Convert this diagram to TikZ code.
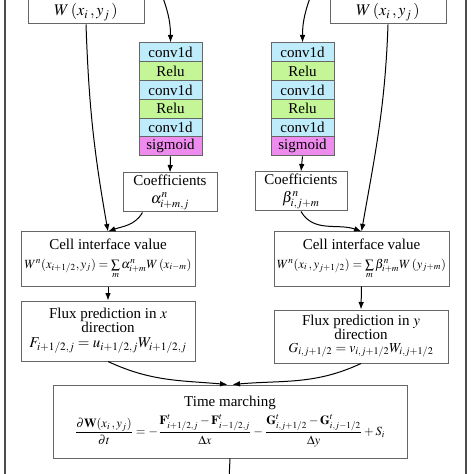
\documentclass[tikz,border=0pt]{standalone}
\usepackage{amsmath}
\usepackage{mathptmx}
\usepackage{fontspec}
\setmainfont{Liberation Serif}
\usetikzlibrary{arrows.meta, positioning}
\definecolor{convcyan}{RGB}{190,236,250}
\definecolor{relugreen}{RGB}{196,245,150}
\definecolor{sigpink}{RGB}{238,140,238}

\begin{document}
\begin{tikzpicture}[x=0.8pt, y=0.8pt,
    every node/.style={font=\fontsize{12}{13}\selectfont},
    blk/.style={draw=black!60, line width=0.8pt, fill=white, align=center,
                inner sep=0pt},
    sz/.style 2 args={minimum width=#1*0.8pt, minimum height=#2*0.8pt},
    layer/.style={draw=black!60, line width=0.8pt, minimum width=63*0.8pt,
                  minimum height=18.8*0.8pt, inner sep=0pt},
    arr/.style={-{Latex[length=6pt, width=4.5pt]}, line width=0.8pt},
  ]
    \useasboundingbox (0,-474) rectangle (474,0);
    \clip (0,-474) rectangle (474,0);

    % outer frame lines
    \draw[line width=0.9pt, black!70] (5,5) -- (5,-480);
    \draw[line width=0.9pt, black!70] (466,5) -- (466,-480);

    % input boxes
    \node[blk, sz={116}{60}] (wlbox) at (86,6) {};
    \node (wl) at (86,-12) {\fontsize{13}{14}\selectfont$W\,(x_i\,,y_j\,)$};
    \node[blk, sz={116}{60}] (wrbox) at (388,6) {};
    \node (wr) at (388,-12) {\fontsize{13}{14}\selectfont$W\,(x_i\,,y_j\,)$};

    % layer stacks
    \foreach \lab/\col [count=\k] in {conv1d/convcyan, Relu/relugreen,
        conv1d/convcyan, Relu/relugreen, conv1d/convcyan, sigmoid/sigpink} {
      \node[layer, fill=\col] (la\k) at (170.5,-33.6-\k*18.8) {\lab};
      \node[layer, fill=\col] (ra\k) at (302.5,-33.6-\k*18.8) {\lab};
    }

    % coefficients
    \node[blk, sz={94}{39}] (cl) at (170,-192.5)
      {Coefficients\\[1pt] {\large $\alpha^{n}_{i+m,j}$}};
    \node[blk, sz={92}{39}] (cr) at (301,-191.5)
      {Coefficients\\[1pt] {\large $\beta^{n}_{i,j+m}$}};

    % cell interface values
    \node[blk, sz={174}{54}] (il) at (108,-259)
      {Cell interface value\\[2pt]
       {\fontsize{10}{11}\selectfont $W^n(x_{i+1/2},y_j)=\sum\limits_{m}\alpha^n_{i+m}W\left(x_{i-m}\right)$}};
    \node[blk, sz={175}{54}] (ir) at (361.5,-259)
      {Cell interface value\\[2pt]
       {\fontsize{10}{11}\selectfont $W^n(x_i\,,y_{j+1/2})=\sum\limits_{m}\beta^n_{i+m}W\left(y_{j+m}\right)$}};

    % flux predictions
    \node[blk, sz={174}{60}] (fl) at (108,-331)
      {Flux prediction in $x$\\[-2pt] direction\\[-1pt]
       {\large $F_{i+1/2,j}=u_{i+1/2,j}W_{i+1/2,j}$}};
    \node[blk, sz={174}{53}] (fr) at (361,-336.5)
      {Flux prediction in $y$\\[-2pt] direction\\[-3pt]
       {\fontsize{11}{12}\selectfont $G_{i,j+1/2}=v_{i,j+1/2}W_{i,j+1/2}$}};

    % time marching
    \node[blk, sz={354}{73}] (tm) at (230,-421.5)
      {Time marching\\[3pt]
       {\normalsize $\dfrac{\partial\mathbf{W}(x_i\,,y_j)}{\partial t}
        =-\dfrac{\mathbf{F}^t_{i+1/2,j}-\mathbf{F}^t_{i-1/2,j}}{\Delta x}
        -\dfrac{\mathbf{G}^t_{i,j+1/2}-\mathbf{G}^t_{i,j-1/2}}{\Delta y}+S_i$}};

    \coordinate (inl) at (163,2);
    \coordinate (inr) at (310,2);
    \coordinate (outp) at (229,-480);

    % connectors
    \draw[arr] (inl) to[out=-70, in=90] (la1.north);
    \draw[arr] (inr) to[out=-110, in=90] (ra1.north);
    \draw[arr] (la6.south) -- (cl.north);
    \draw[arr] (ra6.south) -- (cr.north);
    \draw[arr] (wlbox.south) to[out=-88, in=100] (il.north);
    \draw[arr] (cl.216) to[out=-120, in=20] (il.north);
    \draw[arr] (wrbox.south) to[out=-92, in=80] (ir.north);
    \draw[arr] (cr.south) to[out=-60, in=160] (ir.north);
    \draw[arr] (il.south) -- (fl.north);
    \draw[arr] (ir.south) -- (fr.north);
    \draw[arr] (fl.south) to[out=-25, in=175] ([xshift=-2pt]tm.north);
    \draw[arr] (fr.south) to[out=-155, in=5] ([xshift=2pt]tm.north);
    \draw[line width=0.8pt] (tm.south) -- (outp);
  \end{tikzpicture}
\end{document}
